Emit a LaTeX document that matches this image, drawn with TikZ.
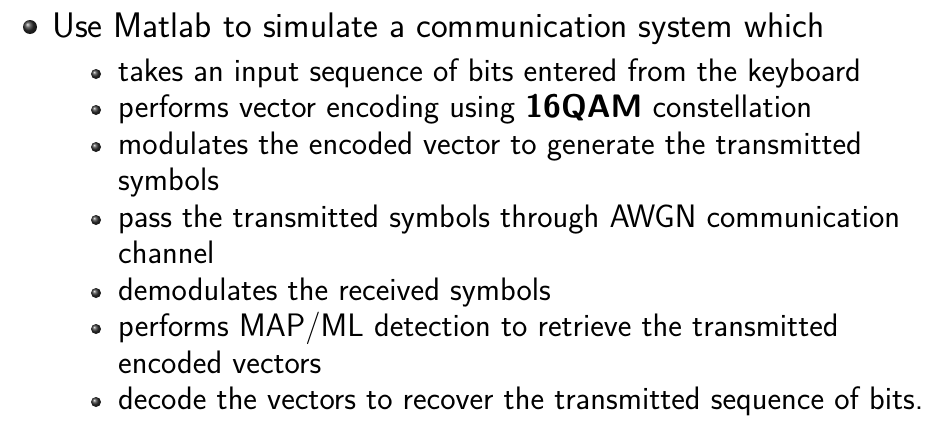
\documentclass[tikz,border=0pt]{standalone}
\usepackage{fontspec}
\tikzset{
  txt/.style={anchor=base west, inner sep=0pt, font=\sffamily\fontsize{32.5}{38}\selectfont},
  maintxt/.style={anchor=base west, inner sep=0pt, font=\sffamily\fontsize{35.5}{42}\selectfont},
  ballbig/.style={circle, minimum size=14pt, inner sep=0pt, ball color=black!80},
  ballsmall/.style={circle, minimum size=10pt, inner sep=0pt, ball color=black!80},
}
\begin{document}
\begin{tikzpicture}[x=1pt,y=1pt]
\useasboundingbox (0,0) rectangle (932,-431);
\node[ballbig] (b0) at (30,-27) {};
\node[maintxt] (t0) at (52,-37) {Use Matlab to simulate a communication system which};
\node[ballsmall] (b1) at (96,-74) {};
\node[txt] (t1) at (118,-81) {takes an input sequence of bits entered from the keyboard};
\node[ballsmall] (b2) at (96,-110) {};
\node[txt] (t2) at (118,-117) {performs vector encoding using \textbf{16QAM} constellation};
\node[ballsmall] (b3) at (96,-147) {};
\node[txt] (t3) at (118,-154) {modulates the encoded vector to generate the transmitted};
\node[txt] (t3b) at (118,-190) {symbols};
\node[ballsmall] (b4) at (96,-220) {};
\node[txt] (t4) at (118,-227) {pass the transmitted symbols through AWGN communication};
\node[txt] (t4b) at (118,-263) {channel};
\node[ballsmall] (b5) at (96,-293) {};
\node[txt] (t5) at (118,-300) {demodulates the received symbols};
\node[ballsmall] (b6) at (96,-329) {};
\node[txt] (t6) at (118,-336) {performs MAP/ML detection to retrieve the transmitted};
\node[txt] (t6b) at (118,-373) {encoded vectors};
\node[ballsmall] (b7) at (96,-402) {};
\node[txt] (t7) at (118,-409) {decode the vectors to recover the transmitted sequence of bits.};
\end{tikzpicture}
\end{document}
